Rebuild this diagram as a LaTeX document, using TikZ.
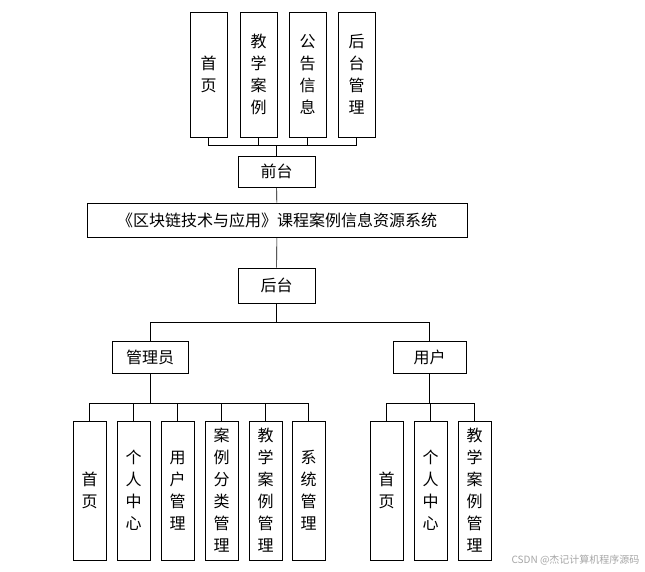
\documentclass[tikz,border=0pt]{standalone}
\usepackage{fontspec}
\newfontfamily\cjk{Noto Sans CJK SC}
\begin{document}
\begin{tikzpicture}[x=1pt,y=-1pt,
  bx/.style={draw,line width=0.8pt,inner sep=0pt,font=\cjk\fontsize{16}{22}\selectfont,align=center},
  ln/.style={line width=0.6pt}]
\useasboundingbox (0,0) rectangle (645,571);
\fill[white] (0,0) rectangle (645,571);
% top boxes
\foreach \n/\x/\t in {t1/208.5/首\\页, t2/258.5/教\\学\\案\\例, t3/307.5/公\\告\\信\\息, t4/356.5/后\\台\\管\\理}
  \node[bx,minimum width=37pt,minimum height=125pt] (\n) at (\x,74.5) {\t};
\node[bx,minimum width=77pt,minimum height=31pt] (qt) at (276.5,171.5) {前台};
\node[bx,minimum width=380pt,minimum height=34pt] (main) at (277,220) {《区块链技术与应用》课程案例信息资源系统};
\node[bx,minimum width=77pt,minimum height=35pt] (ht) at (276.5,285.5) {后台};
\node[bx,minimum width=76pt,minimum height=32pt] (adm) at (150,357) {管理员};
\node[bx,minimum width=73pt,minimum height=32pt] (usr) at (429.5,357) {用户};
\foreach \n/\x/\t in {a1/89.5/首\\页, a2/133.5/个\\人\\中\\心, a3/177.5/用\\户\\管\\理, a4/221.5/案\\例\\分\\类\\管\\理, a5/265.5/教\\学\\案\\例\\管\\理, a6/308.5/系\\统\\管\\理,
  u1/386.5/首\\页, u2/430.5/个\\人\\中\\心, u3/474.5/教\\学\\案\\例\\管\\理}
  \node[bx,minimum width=33pt,minimum height=139pt] (\n) at (\x,490.5) {\t};
% connectors
\draw[ln] (t1.south) |- (276.5,145) -| (qt.north);
\foreach \n in {t2,t3,t4} \draw[ln] (\n.south) -- (\n.south |- 0,145);
\draw[ln] (t1.south |- 0,145) -- (t4.south |- 0,145);
\draw[ln] (qt) -- (main);
\draw[ln] (main) -- (ht);
\draw[ln] (ht.south) -- (276.5,322);
\draw[ln] (adm.north) |- (usr.north |- 0,322) -- (usr.north);
\draw[ln] (adm.south) -- (150,403);
\draw[ln] (a1.north) |- (a6.north |- 0,403) -- (a6.north);
\foreach \n in {a2,a3,a4,a5} \draw[ln] (\n.north) -- (\n.north |- 0,403);
\draw[ln] (usr.south) -- (429.5,403);
\draw[ln] (u1.north) |- (u3.north |- 0,403) -- (u3.north);
\draw[ln] (u2.north) -- (u2.north |- 0,403);
\node[font=\cjk\fontsize{10}{12}\selectfont,text=gray!70,anchor=east] (wm) at (643,560) {CSDN @杰记计算机程序源码};
\end{tikzpicture}
\end{document}
